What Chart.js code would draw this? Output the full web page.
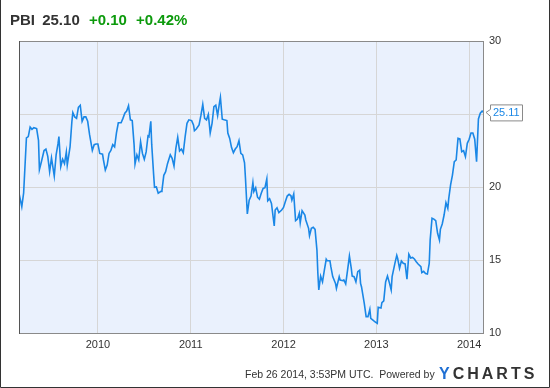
<!DOCTYPE html>
<html lang="en">
<head>
    <meta charset="UTF-8">
    <title>PBI</title>
    <script src="https://cdn.jsdelivr.net/npm/chart.js"></script>
    <style>
        body {
            margin: 0;
            background: #fff;
            font-family: Arial, "Liberation Sans", sans-serif;
            overflow: hidden;
        }
        #wrap {
            position: relative;
            width: 550px;
            height: 388px;
        }
        #quote {
            position: absolute;
            left: 10px;
            top: 11px;
            font-size: 15px;
            font-weight: bold;
            color: #333;
            white-space: nowrap;
        }
        #quote .up { color: #0c9a0c; margin-left: 5px; }
        #quote .px { margin-left: 3px; }
        #footer {
            position: absolute;
            left: 245px;
            top: 368px;
            font-size: 10.5px;
            color: #333;
            white-space: nowrap;
        }
        #logo {
            position: absolute;
            left: 439px;
            top: 365px;
            font-size: 16px;
            font-weight: bold;
            letter-spacing: 3px;
            color: #333;
            white-space: nowrap;
        }
        #logo span { color: #1f6fd3; }
        canvas { position: absolute; left: 0; top: 0; }
    </style>
</head>
<body>
<div id="wrap">
    <canvas id="chart" width="550" height="388"></canvas>
    <div id="quote">PBI <span class="px">25.10</span> <span class="up">+0.10</span> <span class="up">+0.42%</span></div>
    <div id="footer">Feb 26 2014, 3:53PM UTC.&nbsp; Powered by</div>
    <div id="logo"><span>Y</span>CHARTS</div>
</div>

<script>
    // PBI closing price (decimal years)
    const dates = [
        2009.15, 2009.18, 2009.20, 2009.23, 2009.25, 2009.27, 2009.29, 2009.31, 2009.34, 2009.36,
        2009.37, 2009.39, 2009.42, 2009.44, 2009.46, 2009.48, 2009.50, 2009.53, 2009.55, 2009.57,
        2009.58, 2009.60, 2009.62, 2009.64, 2009.66, 2009.67, 2009.70, 2009.72, 2009.73, 2009.75,
        2009.77, 2009.79, 2009.81, 2009.83, 2009.85, 2009.87, 2009.89, 2009.91, 2009.94, 2009.96,
        2009.98, 2010.00, 2010.02, 2010.05, 2010.06, 2010.08, 2010.10, 2010.12, 2010.14, 2010.16,
        2010.18, 2010.20, 2010.22, 2010.25, 2010.27, 2010.29, 2010.31, 2010.33, 2010.35, 2010.37,
        2010.39, 2010.40, 2010.42, 2010.44, 2010.46, 2010.48, 2010.50, 2010.52, 2010.54, 2010.55,
        2010.57, 2010.58, 2010.60, 2010.61, 2010.63, 2010.65, 2010.68, 2010.69, 2010.71, 2010.73,
        2010.75, 2010.78, 2010.80, 2010.82, 2010.84, 2010.86, 2010.88, 2010.90, 2010.92, 2010.94,
        2010.96, 2010.98, 2011.01, 2011.03, 2011.04, 2011.06, 2011.09, 2011.11, 2011.13, 2011.15,
        2011.17, 2011.19, 2011.21, 2011.23, 2011.25, 2011.27, 2011.29, 2011.31, 2011.32, 2011.34,
        2011.36, 2011.39, 2011.40, 2011.42, 2011.44, 2011.46, 2011.48, 2011.50, 2011.52, 2011.54,
        2011.56, 2011.58, 2011.59, 2011.61, 2011.63, 2011.65, 2011.67, 2011.68, 2011.70, 2011.72,
        2011.74, 2011.76, 2011.78, 2011.80, 2011.82, 2011.83, 2011.85, 2011.87, 2011.90, 2011.91,
        2011.93, 2011.95, 2011.98, 2012.00, 2012.02, 2012.04, 2012.06, 2012.08, 2012.09, 2012.11,
        2012.13, 2012.15, 2012.17, 2012.18, 2012.20, 2012.23, 2012.24, 2012.27, 2012.28, 2012.30,
        2012.32, 2012.34, 2012.36, 2012.37, 2012.38, 2012.40, 2012.42, 2012.44, 2012.46, 2012.47,
        2012.50, 2012.51, 2012.53, 2012.56, 2012.57, 2012.60, 2012.61, 2012.64, 2012.65, 2012.67,
        2012.69, 2012.71, 2012.73, 2012.74, 2012.76, 2012.78, 2012.80, 2012.82, 2012.83, 2012.84,
        2012.87, 2012.89, 2012.91, 2012.93, 2012.94, 2012.97, 2012.99, 2013.01, 2013.02, 2013.05,
        2013.06, 2013.08, 2013.10, 2013.12, 2013.14, 2013.16, 2013.17, 2013.20, 2013.22, 2013.23,
        2013.25, 2013.27, 2013.29, 2013.31, 2013.33, 2013.35, 2013.37, 2013.39, 2013.41, 2013.43,
        2013.45, 2013.48, 2013.49, 2013.51, 2013.53, 2013.55, 2013.57, 2013.58, 2013.60, 2013.62,
        2013.64, 2013.66, 2013.68, 2013.69, 2013.71, 2013.73, 2013.75, 2013.77, 2013.78, 2013.80,
        2013.82, 2013.84, 2013.86, 2013.88, 2013.90, 2013.92, 2013.94, 2013.96, 2013.98, 2014.00,
        2014.02, 2014.04, 2014.06, 2014.08, 2014.10, 2014.12, 2014.14, 2014.16
    ];
    const prices = [
        19.57, 18.65, 19.60, 23.36, 23.45, 24.10, 23.95, 24.06, 24.00, 23.20,
        21.20, 21.70, 22.50, 22.60, 22.10, 21.05, 22.00, 20.75, 22.20, 22.95,
        23.45, 21.40, 21.90, 21.60, 22.40, 21.50, 22.75, 24.50, 25.10, 24.80,
        24.70, 25.46, 25.60, 24.50, 24.80, 24.80, 24.50, 23.60, 22.50, 22.90,
        22.95, 22.95, 22.30, 22.25, 21.85, 21.16, 21.50, 22.30, 22.50, 22.90,
        22.75, 23.70, 24.40, 24.40, 24.70, 25.05, 25.20, 25.57, 24.60, 24.55,
        22.90, 21.57, 22.20, 21.85, 23.10, 22.30, 21.90, 22.40, 23.50, 23.45,
        24.50, 22.90, 20.90, 19.98, 20.00, 19.57, 19.70, 19.75, 20.80, 21.05,
        21.60, 22.20, 21.97, 21.44, 22.65, 23.40, 22.47, 22.60, 22.35, 23.45,
        24.36, 24.60, 24.55, 24.25, 23.86, 23.97, 24.25, 24.90, 25.66, 24.70,
        24.60, 24.97, 23.70, 24.36, 25.50, 25.60, 24.90, 25.77, 26.14, 24.64,
        24.60, 24.55, 23.70, 23.33, 22.70, 22.35, 22.60, 22.76, 23.17, 22.30,
        22.20, 21.66, 20.60, 18.15, 19.10, 19.38, 20.30, 19.68, 19.95, 19.30,
        19.16, 19.57, 19.90, 19.95, 20.55, 19.06, 19.20, 18.88, 17.33, 18.42,
        18.58, 18.24, 18.42, 18.60, 19.00, 19.38, 19.50, 19.40, 19.10, 19.52,
        17.70, 17.80, 18.20, 17.55, 18.38, 18.08, 17.74, 17.17, 16.66, 17.17,
        17.24, 17.10, 15.68, 14.08, 12.95, 13.90, 13.50, 14.30, 15.05, 14.95,
        14.95, 14.54, 13.86, 13.40, 13.06, 13.86, 13.63, 13.58, 13.63, 13.36,
        14.30, 15.27, 14.43, 13.90, 13.86, 13.50, 14.20, 14.30, 13.40, 13.17,
        12.03, 11.12, 11.12, 11.62, 11.00, 10.84, 10.75, 10.66, 11.76, 11.71,
        12.08, 12.20, 13.50, 13.90, 13.45, 12.95, 13.86, 14.77, 15.32, 15.10,
        14.43, 14.93, 14.77, 14.73, 13.68, 15.40, 15.14, 15.18, 15.07, 14.88,
        14.73, 14.54, 14.13, 14.22, 14.08, 14.04, 14.77, 16.37, 17.86, 17.80,
        17.69, 16.83, 16.37, 17.10, 17.47, 18.08, 18.92, 18.54, 19.20, 20.14,
        20.82, 21.73, 21.85, 23.33, 23.29, 22.42, 22.49, 22.08, 22.99, 23.27,
        23.70, 23.70, 23.27, 21.73, 24.66, 25.05, 25.20, 25.11
    ];
    const yearTicks = [2010, 2011, 2012, 2013, 2014];
    const priceTicks = [10, 15, 20, 25, 30];
    const lastLabel = '25.11';

    const points = dates.map((d, i) => ({ x: d, y: prices[i] }));

    const framePlugin = {
        id: 'frame',
        beforeDraw(chart) {
            const { ctx, chartArea: a } = chart;
            ctx.save();
            ctx.fillStyle = '#eaf1fd';
            ctx.fillRect(a.left, a.top, a.right - a.left, a.bottom - a.top);
            ctx.restore();
        },
        afterDatasetsDraw(chart) {
            const { ctx, chartArea: a } = chart;
            ctx.save();
            ctx.lineWidth = 1;
            ctx.strokeStyle = '#8a8a8a';
            ctx.strokeRect(Math.round(a.left) + 0.5, Math.round(a.top) + 0.5,
                Math.round(a.right - a.left) - 1, Math.round(a.bottom - a.top));
            ctx.strokeStyle = '#555';
            ctx.beginPath();
            ctx.moveTo(Math.round(a.left) + 0.5, a.top);
            ctx.lineTo(Math.round(a.left) + 0.5, a.bottom + 1);
            ctx.stroke();

            // last price callout
            const y = chart.scales.y.getPixelForValue(prices[prices.length - 1]);
            const bx = a.right + 6, bw = 32, bh = 16;
            ctx.fillStyle = '#fff';
            ctx.strokeStyle = '#8a8a8a';
            ctx.beginPath();
            ctx.moveTo(bx + 0.5, y - bh / 2 + 0.5);
            ctx.lineTo(bx + bw + 0.5, y - bh / 2 + 0.5);
            ctx.lineTo(bx + bw + 0.5, y + bh / 2 + 0.5);
            ctx.lineTo(bx + 0.5, y + bh / 2 + 0.5);
            ctx.lineTo(bx + 0.5, y + 4);
            ctx.lineTo(bx - 4, y);
            ctx.lineTo(bx + 0.5, y - 3);
            ctx.closePath();
            ctx.fill();
            ctx.stroke();
            ctx.fillStyle = '#1a87e6';
            ctx.font = '11px Arial, "Liberation Sans", sans-serif';
            ctx.textBaseline = 'middle';
            ctx.fillText(lastLabel, bx + 3, y + 1);

            // outer border
            ctx.strokeStyle = '#333';
            ctx.beginPath();
            ctx.moveTo(0.5, 0);
            ctx.lineTo(0.5, 387.5);
            ctx.lineTo(549.5, 387.5);
            ctx.lineTo(549.5, 0);
            ctx.stroke();
            ctx.restore();
        }
    };

    new Chart(document.getElementById('chart'), {
        type: 'line',
        data: {
            datasets: [{
                data: points,
                borderColor: '#1a87e6',
                borderWidth: 1.6,
                pointRadius: 0,
                tension: 0,
                fill: false
            }]
        },
        options: {
            responsive: false,
            animation: false,
            events: [],
            layout: { padding: { left: 19, top: 41, right: 0, bottom: 0 } },
            plugins: { legend: { display: false }, tooltip: { enabled: false } },
            scales: {
                x: {
                    type: 'linear',
                    min: 2009.15,
                    max: 2014.16,
                    afterBuildTicks: s => { s.ticks = yearTicks.map(v => ({ value: v })); },
                    afterFit: s => { s.height = 55; },
                    grid: { color: '#d6d6d6', drawTicks: false },
                    border: { display: false },
                    ticks: {
                        padding: 5,
                        color: '#333',
                        font: { size: 11, family: 'Arial, "Liberation Sans", sans-serif' },
                        callback: v => String(v)
                    }
                },
                y: {
                    position: 'right',
                    min: 10,
                    max: 30,
                    afterBuildTicks: s => { s.ticks = priceTicks.map(v => ({ value: v })); },
                    afterFit: s => { s.width = 66; },
                    grid: { color: '#d6d6d6', drawTicks: false },
                    border: { display: false },
                    ticks: {
                        padding: 5,
                        color: '#333',
                        font: { size: 11, family: 'Arial, "Liberation Sans", sans-serif' },
                        callback: v => (v === 25 ? '' : String(v))
                    }
                }
            }
        },
        plugins: [framePlugin]
    });
</script>
</body>
</html>
